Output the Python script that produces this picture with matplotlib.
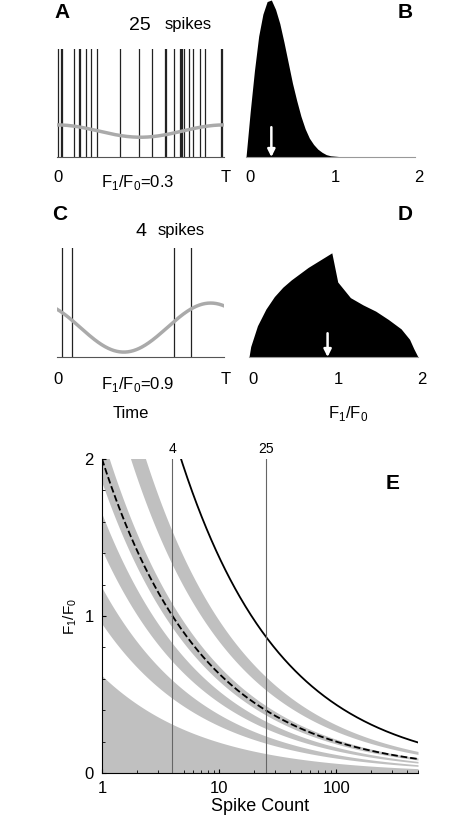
import numpy as np
import matplotlib
matplotlib.use("Agg")
import matplotlib.pyplot as plt

plt.rcParams['font.family'] = ['Liberation Sans', 'DejaVu Sans']
plt.rcParams['mathtext.fontset'] = 'custom'
plt.rcParams['mathtext.rm'] = 'Liberation Sans'

# ---- data ----
spikes_A = [0.006, 0.022, 0.028, 0.101, 0.133, 0.139, 0.173, 0.202, 0.238, 0.375,
            0.490, 0.571, 0.645, 0.651, 0.702, 0.736, 0.742, 0.748, 0.758, 0.792,
            0.817, 0.857, 0.887, 0.984, 0.990]
spikes_C = [0.03, 0.09, 0.70, 0.80]
rate_A_mean, rate_A_amp, rate_A_period, rate_A_phase = 0.24, 0.057, 1.0, 0.0
rate_C_mean, rate_C_amp, rate_C_period, rate_C_peak = 0.27, 0.225, 1.04, 0.92

histB_x = [0, 0.05, 0.1, 0.15, 0.2, 0.25, 0.3, 0.35, 0.4, 0.45, 0.5, 0.55, 0.6, 0.65,
           0.7, 0.75, 0.8, 0.85, 0.9, 0.95, 1.0, 1.1, 1.2, 1.5, 2.0]
histB_y = [0, 0.29, 0.55, 0.77, 0.91, 0.99, 1.0, 0.94, 0.85, 0.73, 0.60, 0.47, 0.36,
           0.26, 0.18, 0.12, 0.08, 0.05, 0.03, 0.015, 0.008, 0.003, 0.001, 0.0, 0.0]
histD_x = [0, 0.02, 0.1, 0.2, 0.3, 0.4, 0.5, 0.6, 0.7, 0.8, 0.9, 0.98, 1.05, 1.2,
           1.35, 1.5, 1.65, 1.8, 1.9, 1.95, 2.0]
histD_y = [0, 0.1, 0.3, 0.46, 0.58, 0.67, 0.74, 0.80, 0.86, 0.91, 0.96, 1.0, 0.72,
           0.57, 0.50, 0.44, 0.36, 0.27, 0.17, 0.08, 0.0]
arrowB, arrowD = 0.3, 0.93

# panel E: curves F1/F0 = c / sqrt(N)
bands_lo = [0.0, 0.95, 1.42, 1.85, 2.65]
bands_hi = [0.62, 1.18, 1.65, 2.15, 3.07]
dashed_c = 2.0
solid_c = 4.35
vlines_E = [4, 25]

W, H = 474, 824
fig = plt.figure(figsize=(W/100, H/100), dpi=100)

def ax_px(l, t, r, b):
    return fig.add_axes([l/W, 1-b/H, (r-l)/W, (b-t)/H])

def raster(ax, spikes, mean, amp, period, peak):
    for s in spikes:
        ax.axvline(s, color='#222222', lw=0.9)
    t = np.linspace(0, 1, 300)
    ax.plot(t, mean + amp*np.cos(2*np.pi*(t-peak)/period), color='#aaaaaa', lw=2.5)
    ax.set_xlim(0, 1); ax.set_ylim(0, 1)
    for s in ['top', 'right', 'left']:
        ax.spines[s].set_visible(False)
    ax.spines['bottom'].set_color('#555555')
    ax.set_xticks([]); ax.set_yticks([])

axA = ax_px(57, 49, 224, 157)
raster(axA, spikes_A, rate_A_mean, rate_A_amp, rate_A_period, rate_A_phase)
axC = ax_px(57, 248, 224, 357)
raster(axC, spikes_C, rate_C_mean, rate_C_amp, rate_C_period, rate_C_peak)

def hist(ax, x, y, arrow, top):
    ax.fill_between(x, 0, y, color='black', lw=0)
    ax.set_xlim(0, 2); ax.set_ylim(0, top)
    ax.set_xticks([]); ax.set_yticks([])
    for s in ['top', 'right', 'left']:
        ax.spines[s].set_visible(False)
    ax.spines['bottom'].set_color('#999999')
    ax.annotate('', xy=(arrow, 0.0), xytext=(arrow, 0.19*top),
                arrowprops=dict(arrowstyle='-|>', color='white', lw=1.8, mutation_scale=11,
                                shrinkA=0, shrinkB=0))

axB = ax_px(246, 0, 415, 157)
hist(axB, histB_x, histB_y, arrowB, 1.0)
axD = ax_px(249, 232, 418, 357)
hist(axD, histD_x, histD_y, arrowD, 1.2)

def ftext(x, y, s, **kw):
    fig.text(x/W, 1-y/H, s, ha='center', va='center', **kw)

ftext(62, 13, 'A', fontsize=15, fontweight='bold')
ftext(405, 13, 'B', fontsize=15, fontweight='bold')
ftext(60, 215, 'C', fontsize=15, fontweight='bold')
ftext(405, 215, 'D', fontsize=15, fontweight='bold')
ftext(393, 484, 'E', fontsize=15, fontweight='bold')
fig.text(129/W, 1-25/H, '25', fontsize=14, va='center')
fig.text(165/W, 1-25/H, 'spikes', fontsize=12, va='center')
fig.text(135/W, 1-231/H, '4', fontsize=14, va='center')
fig.text(158/W, 1-231/H, 'spikes', fontsize=12, va='center')
for yy, lab in [(178, r'F$_1$/F$_0$=0.3'), (380, r'F$_1$/F$_0$=0.9')]:
    ftext(58, yy, '0', fontsize=12)
    ftext(226, yy, 'T', fontsize=12)
    ftext(138, yy+4, lab, fontsize=12)
for yy, x0 in [(178, 250), (380, 253)]:
    ftext(x0, yy, '0', fontsize=12)
    ftext(x0+85, yy, '1', fontsize=12)
    ftext(x0+169, yy, '2', fontsize=12)
ftext(131, 413, 'Time', fontsize=12)
ftext(348, 413, r'F$_1$/F$_0$', fontsize=12)

# panel E
axE = ax_px(102, 459, 418, 773)
N = np.logspace(0, np.log10(500), 400)
for lo, hi in zip(bands_lo, bands_hi):
    axE.fill_between(N, lo/np.sqrt(N), hi/np.sqrt(N), color='#c0c0c0', lw=0)
axE.plot(N, dashed_c/np.sqrt(N), 'k--', lw=1.3)
axE.plot(N, solid_c/np.sqrt(N), 'k-', lw=1.3)
for v in vlines_E:
    axE.axvline(v, color='#666666', lw=0.8)
    axE.text(v, 2.02, str(v), ha='center', va='bottom', fontsize=10)
axE.set_xscale('log')
axE.set_xlim(1, 500); axE.set_ylim(0, 2)
axE.set_xticks([1, 10, 100]); axE.set_xticklabels(['1', '10', '100'])
axE.set_yticks([0, 1, 2]); axE.set_yticklabels(['0', '1', '2'])
axE.set_yticks(np.arange(0, 2.01, 0.2), minor=True)
axE.tick_params(direction='in', length=3, labelsize=12, pad=6)
axE.tick_params(which='minor', direction='in', length=2)
for s in ['top', 'right']:
    axE.spines[s].set_visible(False)
axE.set_xlabel('Spike Count', fontsize=13, labelpad=1)
axE.set_ylabel(r'F$_1$/F$_0$', fontsize=11)

fig.savefig('out.png', dpi=100)
